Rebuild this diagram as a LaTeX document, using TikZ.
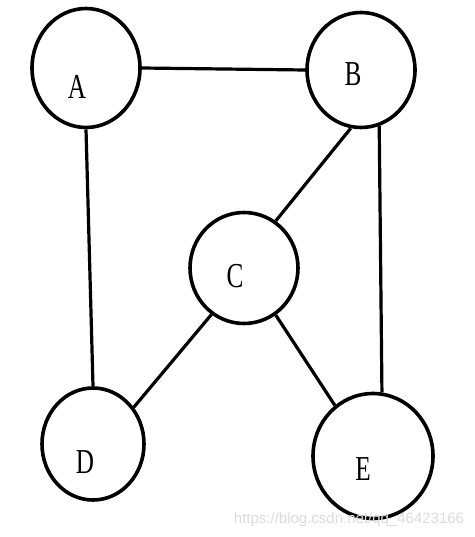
\documentclass[tikz,border=0pt]{standalone}
\usepackage{fontspec}
\setmainfont{Liberation Serif}
\newfontfamily\markfont{Liberation Sans}
\usetikzlibrary{shapes.geometric}

\begin{document}
\begin{tikzpicture}[x=1pt, y=-1pt,
    vertex/.style={draw, ellipse, line width=3.6pt, inner sep=0pt},
    letter/.style={font=\fontsize{35}{35}\selectfont, xscale=0.72},
    link/.style={line width=3.2pt}]
  \useasboundingbox (0,0) rectangle (474,537);
  % vertices
  \node[vertex, minimum width=108pt, minimum height=119pt] (A) at (86,68) {};
  \node[vertex, minimum width=108pt, minimum height=115pt] (B) at (361,70) {};
  \node[vertex, minimum width=108pt, minimum height=111pt] (C) at (244,268) {};
  \node[vertex, minimum width=102pt, minimum height=112pt] (D) at (93,444) {};
  \node[vertex, minimum width=120pt, minimum height=125pt] (E) at (373,456) {};
  % letters
  \node[letter] (labelA) at (77,87) {A};
  \node[letter] (labelB) at (353,74) {B};
  \node[letter] (labelC) at (235,276) {C};
  \node[letter] (labelD) at (85,462) {D};
  \node[letter] (labelE) at (363,469) {E};
  % edges
  \draw[link] (A.east) -- (B.west);
  \draw[link] (A.south) -- (D.north);
  \draw[link] (B.-100) -- (C.56);
  \draw[link] (B.-72) -- (E.82);
  \draw[link] (C.-125) -- (D.42);
  \draw[link] (C.-56) -- (E.127);
  \node[text=black!14, font=\markfont\fontsize{15}{15}\selectfont] (mark) at (349,520) {https://blog.csdn.net/qq\_46423166};
\end{tikzpicture}
\end{document}
